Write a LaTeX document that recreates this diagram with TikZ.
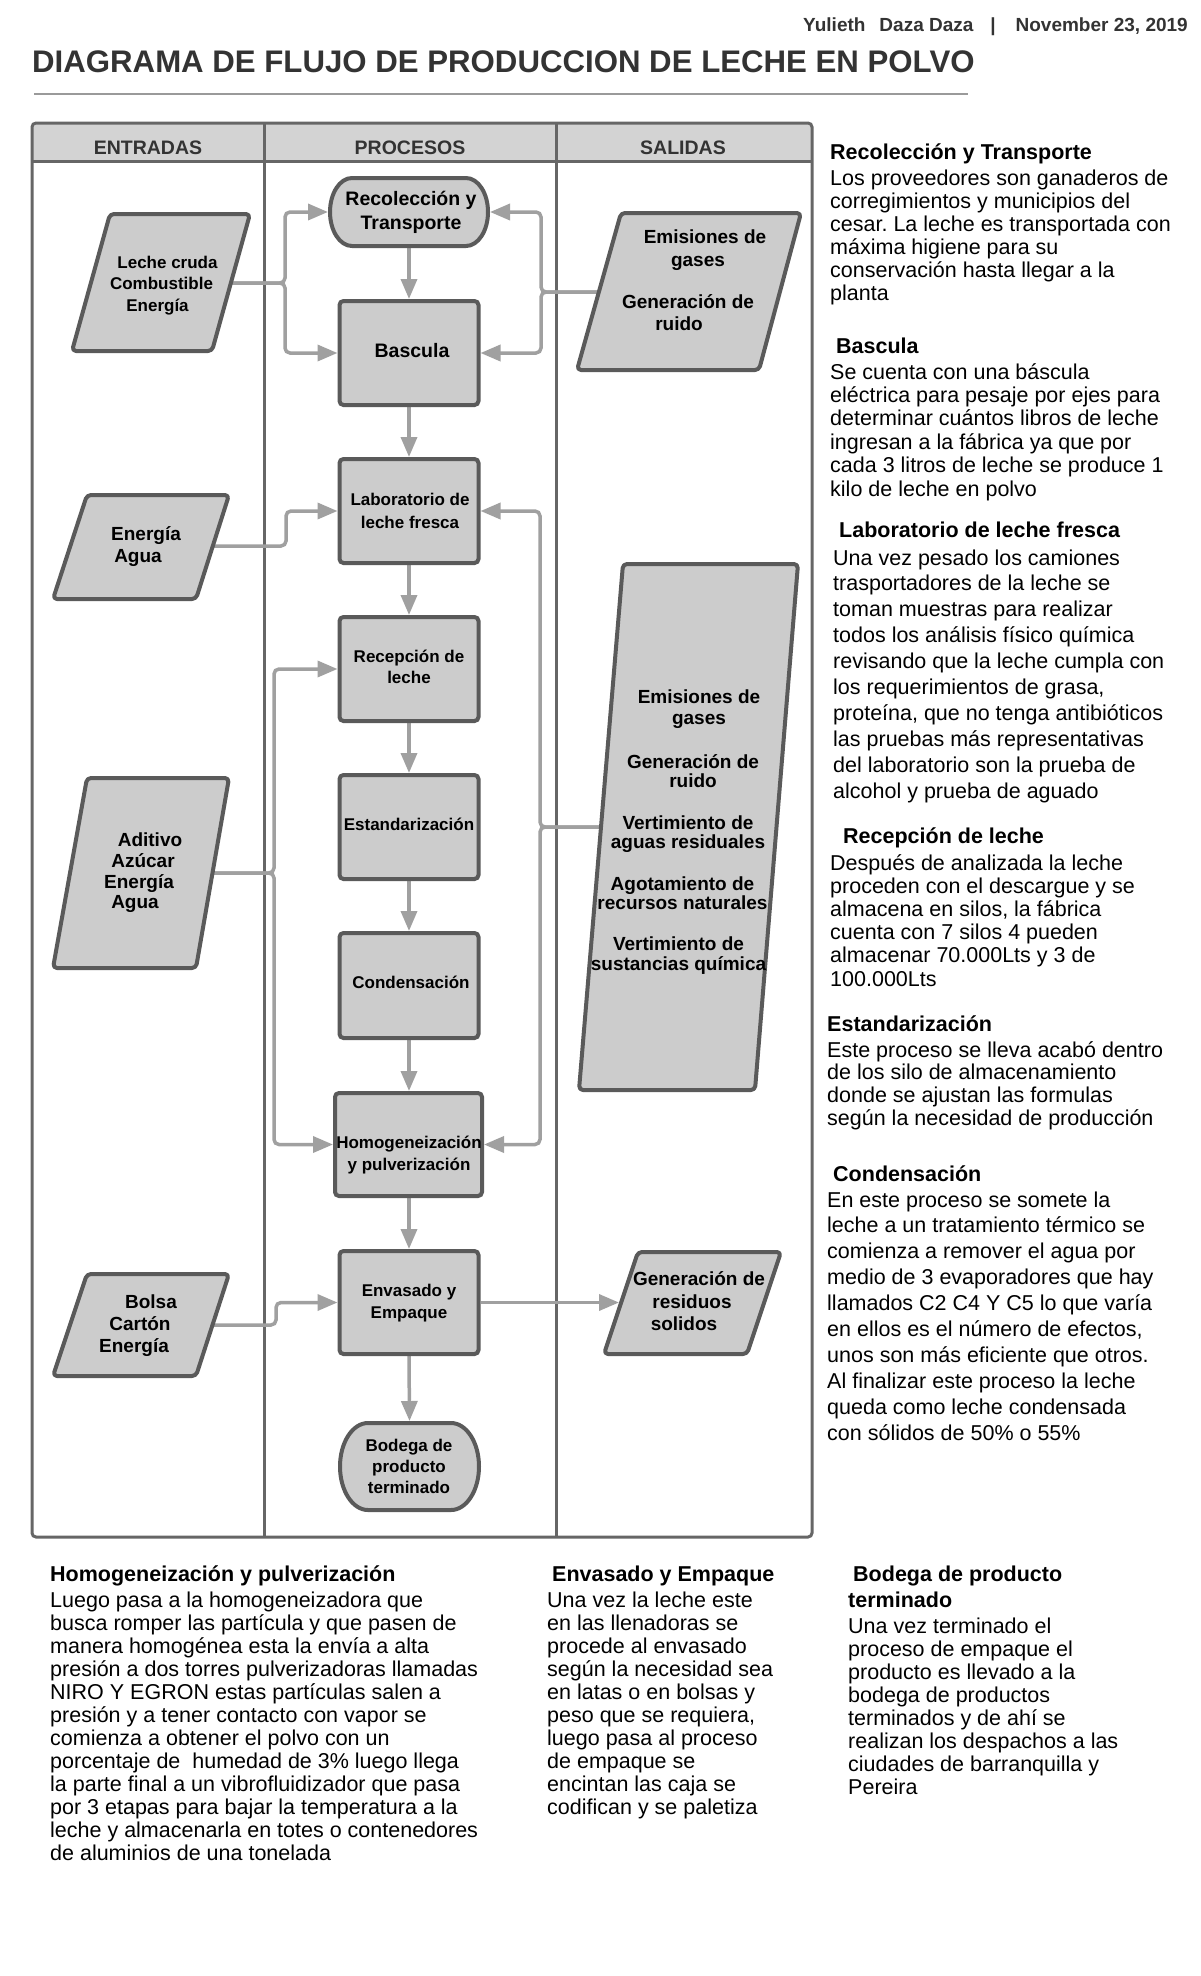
\documentclass[tikz,border=0pt]{standalone}
\usepackage{fontspec}
\setmainfont{Liberation Sans}
\usetikzlibrary{arrows.meta,calc}
\frenchspacing
\definecolor{boxfill}{HTML}{CCCCCC}
\definecolor{boxline}{HTML}{5A5A5A}
\definecolor{arrowc}{HTML}{A0A0A0}
\definecolor{tblline}{HTML}{666666}
\definecolor{hdrfill}{HTML}{D3D3D3}
\definecolor{darktext}{HTML}{333333}
\definecolor{rulec}{HTML}{9A9A9A}
\newcommand{\myclines}[2]{\vtop{\baselineskip=#1\relax\lineskiplimit=-100pt\relax\lineskip=0pt\relax\halign{\hfil##\hfil\cr#2\crcr}}}
\newcommand{\myllines}[2]{\vtop{\baselineskip=#1\relax\lineskiplimit=-100pt\relax\lineskip=0pt\relax\halign{##\hfil\cr#2\crcr}}}
\pgfdeclarelayer{back}
\pgfsetlayers{back,main}
\tikzset{
 proc/.style={draw=boxline, fill=boxfill, line width=4pt, rounded corners=4pt, inner sep=0pt, minimum width=139pt, minimum height=104pt},
 ghost/.style={inner sep=0pt, outer sep=0pt},
 shp/.style={draw=boxline, fill=boxfill, line width=4pt, rounded corners=4pt, line join=round},
 stad/.style={draw=boxline, fill=boxfill, line width=4pt, sharp corners, line join=round},
 flow/.style={draw=arrowc, line width=3.5pt, rounded corners=5pt, -{Triangle[length=20pt,width=16pt]}},
 tbl/.style={draw=tblline, line width=3pt},
 bt/.style={inner sep=0pt, anchor=base, text=black, font=\bfseries\fontsize{17}{21}\selectfont},
 btl/.style={bt, font=\bfseries\fontsize{19.5}{24}\selectfont},
 ptx/.style={bt, font=\bfseries\fontsize{19}{22}\selectfont},
 desc/.style={inner sep=0pt, anchor=base west, text=black, font=\fontsize{21.5}{23}\selectfont},
 desch/.style={desc, font=\bfseries\fontsize{21.5}{23}\selectfont},
 colh/.style={inner sep=0pt, anchor=base, text=darktext, font=\bfseries\fontsize{19.5}{23}\selectfont},
 hdr/.style={inner sep=0pt, text=darktext, font=\bfseries\fontsize{19}{23}\selectfont},
}
\begin{document}
\begin{tikzpicture}[x=1pt,y=-1pt]
\useasboundingbox (0,0) rectangle (1200,1976);

% ---------- header ----------
\node[hdr, anchor=base west] (author) at (803,31) {Yulieth\hspace{14pt}Daza Daza};
\node[hdr, anchor=base] (bar) at (993,31) {|};
\node[hdr, anchor=base east] (date) at (1188,31) {November 23, 2019};
\node[inner sep=0pt, anchor=base west, text=darktext, font=\bfseries\fontsize{31.2}{36}\selectfont] (title) at (32,72) {DIAGRAMA DE FLUJO DE PRODUCCION DE LECHE EN POLVO};
\coordinate (ruleA) at (34,94);
\coordinate (ruleB) at (968,94);
\draw[rulec, line width=2.5pt] (ruleA) -- (ruleB);

% ---------- process shapes ----------
\node[ghost, minimum width=162pt, minimum height=72pt] (rec) at (409,212) {};
\draw[stad] (352,178) -- (466,178) arc[start angle=-90, end angle=90, x radius=22, y radius=34] -- (352,246) arc[start angle=90, end angle=270, x radius=22, y radius=34] -- cycle;
\node[proc] (bas) at (409,353) {};
\node[proc] (lab) at (409,511) {};
\node[proc] (recep) at (409,669) {};
\node[proc] (est) at (409,827) {};
\node[proc, minimum height=105pt] (cond) at (409,985.5) {};
\node[proc, minimum width=147pt, minimum height=103pt] (homog) at (408.5,1144.5) {};
\node[proc, minimum height=103pt] (envas) at (409,1302.5) {};
\node[ghost, minimum width=143pt, minimum height=91pt] (bod) at (409.5,1466.5) {};
\draw[stad] (368,1423) -- (451,1423) arc[start angle=-90, end angle=90, x radius=28, y radius=43.5] -- (368,1510) arc[start angle=90, end angle=270, x radius=28, y radius=43.5] -- cycle;

% ---------- inputs / outputs (parallelograms) ----------
\draw[shp] (110,214) -- (250,214) -- (212,351) -- (72,351) -- cycle;
\draw[shp] (87,495) -- (229,495) -- (196,599) -- (53,599) -- cycle;
\draw[shp] (87,778) -- (229,778) -- (196,968) -- (53,968) -- cycle;
\draw[shp] (87,1274) -- (229,1274) -- (196,1376) -- (53,1376) -- cycle;
\draw[shp] (621,213) -- (801,213) -- (759,370) -- (577,370) -- cycle;
\draw[shp] (623,564) -- (798,564) -- (755,1090) -- (579,1090) -- cycle;
\draw[shp] (638,1252) -- (781,1252) -- (747,1354) -- (604,1354) -- cycle;

\coordinate (lcout) at (231,283);
\coordinate (eaout) at (213,546);
\coordinate (adout) at (212.5,873);
\coordinate (boout) at (212.5,1325);
\coordinate (egout) at (599,292);
\coordinate (bigout) at (601,827);
\coordinate (resin) at (619,1302.5);

% ---------- background layer: table and connectors ----------
\begin{pgfonlayer}{back}
\fill[white] (0,0) rectangle (1200,1976);
\fill[hdrfill, rounded corners=4pt] (32,123) rectangle (812,161);
\draw[tbl, rounded corners=4pt] (32,123) rectangle (812,1537);
\draw[tbl] (32,161) -- (812,161);
\draw[tbl] (264,123) -- (264,1537);
\draw[tbl] (556,123) -- (556,1537);

\draw[flow] (lcout) -- ++(54,0) |- (rec.west);
\draw[flow] (lcout) -- ++(54,0) |- (bas.west);
\draw[flow] (egout) -- ++(-58,0) |- (rec.east);
\draw[flow] (egout) -- ++(-58,0) |- (bas.east);
\draw[flow] (eaout) -- ++(73,0) |- (lab.west);
\draw[flow] (bigout) -- ++(-61,0) |- (lab.east);
\draw[flow] (bigout) -- ++(-61,0) |- (homog.east);
\draw[flow] (adout) -- ++(61.5,0) |- (recep.west);
\draw[flow] (adout) -- ++(61.5,0) |- (homog.west);
\draw[flow] (boout) -- ++(63.5,0) |- (envas.west);
\draw[flow] (envas.east) -- (resin);

\draw[flow] (rec.south) -- (bas.north);
\draw[flow] (bas.south) -- (lab.north);
\draw[flow] (lab.south) -- (recep.north);
\draw[flow] (recep.south) -- (est.north);
\draw[flow] (est.south) -- (cond.north);
\draw[flow] (cond.south) -- (cond.south |- homog.north);
\draw[flow] (cond.south |- homog.south) -- (envas.north);
\draw[flow] (envas.south) -- (bod.north);
\end{pgfonlayer}

% ---------- column headers ----------
\node[colh] (h1) at (148,154) {ENTRADAS};
\node[colh] (h2) at (410,154) {PROCESOS};
\node[colh] (h3) at (683,154) {SALIDAS};

% ---------- texts in process shapes ----------
\node[btl] (rec-t) at (411,205) {\myclines{24pt}{Recolección y\cr Transporte}};
\node[btl] (bas-t) at (412,357) {Bascula};
\node[bt] (lab-t) at (410,505) {\myclines{23pt}{Laboratorio de\cr leche fresca}};
\node[bt] (recep-t) at (409,662) {\myclines{21pt}{Recepción de\cr leche}};
\node[bt] (est-t) at (409,830) {Estandarización};
\node[bt] (cond-t) at (411,988.5) {Condensación};
\node[bt] (homog-t) at (409,1148.5) {\myclines{22pt}{Homogeneización\cr y pulverización}};
\node[bt] (envas-t) at (409,1296) {\myclines{22.5pt}{Envasado y\cr Empaque}};
\node[bt] (bod-t) at (409,1451) {\myclines{21pt}{Bodega de\cr producto\cr terminado}};

% ---------- texts in parallelograms ----------
\node[bt] (lc-t) at (161.5,268) {\myclines{21.5pt}{\kern12pt Leche cruda\cr Combustible\cr Energía\kern8pt}};
\node[ptx] (ea-t) at (142,540) {\myclines{22pt}{\kern8pt Energía\cr Agua\kern8pt}};
\node[ptx] (ad-t) at (142,846.7) {\myclines{20.7pt}{\kern16pt Aditivo\cr \kern2pt Azúcar\cr Energía\kern6pt\cr Agua\kern14pt}};
\node[ptx] (bo-t) at (142,1308) {\myclines{22pt}{\kern18pt Bolsa\cr Cartón\kern4pt\cr Energía\kern16pt}};
\node[ptx] (eg-t1) at (701,243) {\myclines{23pt}{\kern8pt Emisiones de\cr gases\kern6pt}};
\node[ptx] (eg-t2) at (683.5,308) {\myclines{22pt}{\kern9pt Generación de\cr ruido\kern9pt}};
\node[ptx] (big-t1) at (699,703.7) {\myclines{21pt}{Emisiones de\cr gases}};
\node[ptx] (big-t2) at (693,768.7) {\myclines{19pt}{Generación de\cr ruido}};
\node[ptx] (big-t3) at (688,829.7) {\myclines{19pt}{Vertimiento de\cr aguas residuales}};
\node[ptx] (big-t4) at (682.5,890.7) {\myclines{19pt}{Agotamiento de\cr recursos naturales}};
\node[ptx] (big-t5) at (678.5,950.7) {\myclines{20pt}{Vertimiento de\cr sustancias química}};
\node[ptx] (res-t) at (692,1285.7) {\myclines{22.5pt}{\kern14pt Generación de\cr residuos\cr solidos\kern16pt}};

% ---------- right column descriptions ----------
\node[desch] (d1h) at (830,159) {Recolección y Transporte};
\node[desc] (d1) at (830,185) {\myllines{23pt}{Los proveedores son ganaderos de\cr corregimientos y municipios del\cr cesar. La leche es transportada con\cr máxima higiene para su\cr conservación hasta llegar a la\cr planta}};
\node[desch] (d2h) at (836,353) {Bascula};
\node[desc] (d2) at (830,379) {\myllines{23.4pt}{Se cuenta con una báscula\cr eléctrica para pesaje por ejes para\cr determinar cuántos libros de leche\cr ingresan a la fábrica ya que por\cr cada 3 litros de leche se produce 1\cr kilo de leche en polvo}};
\node[desch] (d3h) at (839,537.6) {Laboratorio de leche fresca};
\node[desc] (d3) at (833,565) {\myllines{25.9pt}{Una vez pesado los camiones\cr trasportadores de la leche se\cr toman muestras para realizar\cr todos los análisis físico química\cr revisando que la leche cumpla con\cr los requerimientos de grasa,\cr proteína, que no tenga antibióticos\cr las pruebas más representativas\cr del laboratorio son la prueba de\cr alcohol y prueba de aguado}};
\node[desch] (d4h) at (843,843) {Recepción de leche};
\node[desc] (d4) at (830,870) {\myllines{23.2pt}{Después de analizada la leche\cr proceden con el descargue y se\cr almacena en silos, la fábrica\cr cuenta con 7 silos 4 pueden\cr almacenar 70.000Lts y 3 de\cr 100.000Lts}};
\node[desch] (d5h) at (827,1031) {Estandarización};
\node[desc] (d5) at (827,1057) {\myllines{22.7pt}{Este proceso se lleva acabó dentro\cr de los silo de almacenamiento\cr donde se ajustan las formulas\cr según la necesidad de producción}};
\node[desch] (d6h) at (833,1181) {Condensación};
\node[desc] (d6) at (827,1207) {\myllines{25.9pt}{En este proceso se somete la\cr leche a un tratamiento térmico se\cr comienza a remover el agua por\cr medio de 3 evaporadores que hay\cr llamados C2 C4 Y C5 lo que varía\cr en ellos es el número de efectos,\cr unos son más eficiente que otros.\cr Al finalizar este proceso la leche\cr queda como leche condensada\cr con sólidos de 50\% o 55\%}};

% ---------- bottom descriptions ----------
\node[desch] (d7h) at (50,1581) {Homogeneización y pulverización};
\node[desc] (d7) at (50,1607) {\myllines{23pt}{Luego pasa a la homogeneizadora que\cr busca romper las partícula y que pasen de\cr manera homogénea esta la envía a alta\cr presión a dos torres pulverizadoras llamadas\cr NIRO Y EGRON estas partículas salen a\cr presión y a tener contacto con vapor se\cr comienza a obtener el polvo con un\cr porcentaje de\ \ humedad de 3\% luego llega\cr la parte final a un vibrofluidizador que pasa\cr por 3 etapas para bajar la temperatura a la\cr leche y almacenarla en totes o contenedores\cr de aluminios de una tonelada}};
\node[desch] (d8h) at (552,1581) {Envasado y Empaque};
\node[desc] (d8) at (547,1607) {\myllines{23pt}{Una vez la leche este\cr en las llenadoras se\cr procede al envasado\cr según la necesidad sea\cr en latas o en bolsas y\cr peso que se requiera,\cr luego pasa al proceso\cr de empaque se\cr encintan las caja se\cr codifican y se paletiza}};
\node[desch] (d9h) at (853,1581) {Bodega de producto};
\node[desch] (d9h2) at (848,1607.7) {terminado};
\node[desc] (d9) at (848,1633) {\myllines{23.1pt}{Una vez terminado el\cr proceso de empaque el\cr producto es llevado a la\cr bodega de productos\cr terminados y de ahí se\cr realizan los despachos a las\cr ciudades de barranquilla y\cr Pereira}};
\end{tikzpicture}
\end{document}
